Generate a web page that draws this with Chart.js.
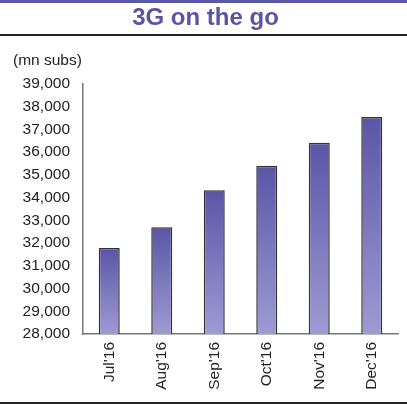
<!DOCTYPE html>
<html>
<head>
<meta charset="utf-8">
<script src="https://cdn.jsdelivr.net/npm/chart.js@4/dist/chart.umd.min.js"></script>
<style>
  body { margin: 0; background: #fff; font-family: "Liberation Sans", Arial, sans-serif; }
  #wrap { position: relative; width: 407px; height: 404px; overflow: hidden; }
  #topline { position: absolute; left: 0; top: 0; width: 407px; height: 3px; background: #5b57a6; }
  #title { position: absolute; left: 2px; top: 2px; width: 407px; text-align: center;
           font-size: 24px; font-weight: bold; color: #5a55a3; line-height: 30px; }
  #rule { position: absolute; left: 0; top: 34px; width: 407px; height: 2px; background: #222; }
  #unit { position: absolute; left: 13px; top: 51px; font-size: 15.5px; color: #222; }
  #botline { position: absolute; left: 0; top: 402px; width: 407px; height: 2px; background: #222; }
  canvas { position: absolute; left: 0; top: 0; }
</style>
</head>
<body>
<div id="wrap">
  <canvas id="chart" width="407" height="404"></canvas>
  <div id="topline"></div>
  <div id="title">3G on the go</div>
  <div id="rule"></div>
  <div id="unit">(mn subs)</div>
  <div id="botline"></div>
</div>
<script>
var months = ["Jul'16", "Aug'16", "Sep'16", "Oct'16", "Nov'16", "Dec'16"];
var subs = [31780, 32700, 34330, 35400, 36420, 37550];
var yMin = 28000;
var yMax = 39000;

// each bar fades from dark at its top to light at the axis
function barFill(ctx) {
    var chart = ctx.chart;
    var area = chart.chartArea;
    if (!area || !chart.scales.y || ctx.raw === undefined) return '#6a66b0';
    var top = chart.scales.y.getPixelForValue(ctx.raw);
    var g = chart.ctx.createLinearGradient(0, top, 0, area.bottom);
    g.addColorStop(0, '#5a56a7');
    g.addColorStop(1, '#9e9ad3');
    return g;
}

var chart = new Chart(document.getElementById('chart'), {
    type: 'bar',
    data: {
        labels: months,
        datasets: [{
            data: subs,
            backgroundColor: barFill,
            borderColor: '#333',
            borderWidth: 1.5,
            borderSkipped: 'bottom',
            barPercentage: 0.4,
            categoryPercentage: 1
        }]
    },
    options: {
        responsive: false,
        animation: false,
        layout: { padding: { top: 84, right: 9, bottom: 0, left: 0 } },
        plugins: { legend: { display: false }, tooltip: { enabled: false } },
        scales: {
            x: {
                grid: { display: false, drawTicks: false },
                border: { display: true, color: '#777', width: 1.5 },
                ticks: {
                    color: '#222',
                    font: { family: 'Liberation Sans', size: 15.5 },
                    minRotation: 90, maxRotation: 90,
                    padding: 8
                },
                afterFit: function (s) { s.height = 70; }
            },
            y: {
                min: yMin, max: yMax,
                grid: { display: false, drawTicks: false },
                border: { display: true, color: '#777', width: 1.5 },
                ticks: {
                    stepSize: 1000,
                    color: '#222',
                    font: { family: 'Liberation Sans', size: 15.5 },
                    padding: 13,
                    callback: function (v) { return v.toLocaleString('en-US'); }
                },
                afterFit: function (s) { s.width = 83; }
            }
        }
    }
});
</script>
</body>
</html>
